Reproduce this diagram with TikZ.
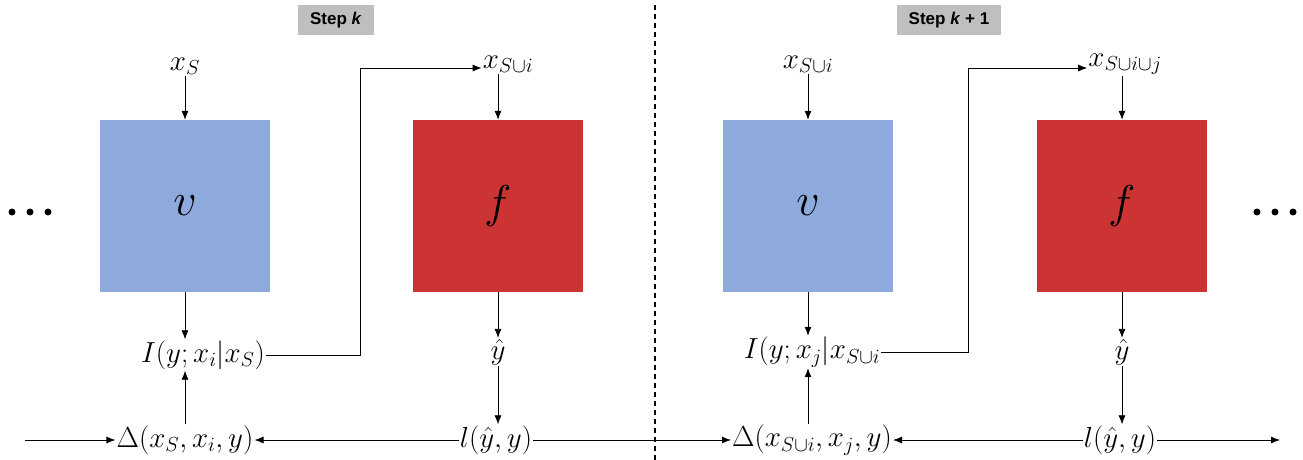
\documentclass[tikz,border=0pt]{standalone}
\usepackage{fix-cm}
\usepackage{amsmath}
\usepackage{fontspec}
\newfontfamily\hv{Liberation Sans}
\usetikzlibrary{arrows.meta}
\begin{document}
\begin{tikzpicture}[x=1pt,y=-1pt,
  lab/.style={inner sep=1pt,font=\fontsize{29}{32}\selectfont},
  blk/.style={minimum width=170pt,minimum height=172pt,inner sep=0pt,font=\fontsize{46}{50}\selectfont},
  stepbox/.style={fill=black!25,inner xsep=12pt,minimum height=30pt,font=\hv\bfseries\fontsize{17}{20}\selectfont},
  arr/.style={-{Latex[length=9pt,width=7pt]},line width=0.8pt},
  dot/.style={circle,fill=black,inner sep=0pt,minimum size=7pt}]
\useasboundingbox (0,0) rectangle (1303,460);
\definecolor{vblue}{HTML}{8EA9DB}
\definecolor{fred}{HTML}{CC3333}
\node[stepbox] (s1) at (336,20) {Step \textit{k}};
\node[stepbox] (s2) at (949,20) {Step \textit{k} + 1};
\draw[line width=1.5pt,dash pattern=on 5pt off 4pt] (655,5) -- (655,460);
\foreach \x [count=\i] in {12,30,48,1257,1275,1293}
  \node[dot] (dd\i) at (\x,212) {};
% left
\node[blk,fill=vblue] (v1) at (185,206) {$v$};
\node[blk,fill=fred] (f1) at (498,206) {$f$};
\node[lab] (xs) at (185,66) {$x_S$};
\node[lab] (xsi) at (508,64) {$x_{S\cup i}$};
\node[lab] (I1) at (203,355) {$I(y;x_i|x_S)$};
\node[lab] (yh1) at (498,352) {$\hat y$};
\node[lab] (D1) at (185,440) {$\Delta(x_S,x_i,y)$};
\node[lab] (l1) at (496,440) {$l(\hat y,y)$};
\coordinate (in1) at (25,440);
\draw[arr] (xs) -- (v1);
\draw[arr] (xsi.south-|f1) -- (f1);
\draw[arr] (v1) -- (v1|-I1.north);
\draw[arr] (f1) -- (yh1);
\draw[arr] (D1) -- (D1|-I1.south);
\draw[arr] (yh1) -- (l1.north-|yh1);
\draw[arr] (l1) -- (D1);
\draw[arr] (in1) -- (D1);
\draw[arr] (I1.east) -- (360,355) -- (360,68) -- (xsi.west|-0,68);
% right
\node[blk,fill=vblue] (v2) at (808,206) {$v$};
\node[blk,fill=fred] (f2) at (1122,206) {$f$};
\node[lab] (xsi2) at (808,64) {$x_{S\cup i}$};
\node[lab] (xsij) at (1125,64) {$x_{S\cup i\cup j}$};
\node[lab] (I2) at (812,352) {$I(y;x_j|x_{S\cup i}$};
\node[lab] (yh2) at (1122,352) {$\hat y$};
\node[lab] (D2) at (812,440) {$\Delta(x_{S\cup i},x_j,y)$};
\node[lab] (l2) at (1120,440) {$l(\hat y,y)$};
\coordinate (out2) at (1280,440);
\draw[arr] (xsi2.south-|v2) -- (v2);
\draw[arr] (xsij.south-|f2) -- (f2);
\draw[arr] (v2) -- (v2|-I2.north);
\draw[arr] (f2) -- (yh2);
\draw[arr] (D2.north-|v2) -- (v2|-I2.south);
\draw[arr] (yh2) -- (l2.north-|yh2);
\draw[arr] (l2) -- (D2);
\draw[arr] (l1) -- (D2);
\draw[arr] (l2) -- (out2);
\draw[arr] (I2.east) -- (968,352) -- (968,68) -- (xsij.west|-0,68);
\end{tikzpicture}
\end{document}
